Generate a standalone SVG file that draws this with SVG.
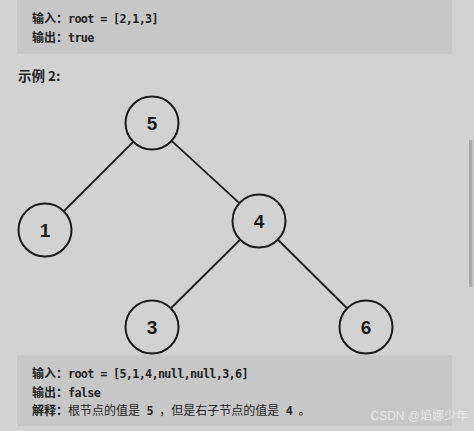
<svg xmlns="http://www.w3.org/2000/svg" width="474" height="431" viewBox="0 0 474 431">
<style>
.box{fill:#c7c7c8}
.cn{font-family:"Noto Sans CJK SC","Liberation Sans",sans-serif;font-size:12px;font-weight:bold;fill:#1e1e1e}
.cnn{font-family:"Noto Sans CJK SC","Liberation Sans",sans-serif;font-size:12px;fill:#1e1e1e}
.mono{font-family:"DejaVu Sans Mono","Liberation Mono",monospace;font-size:11.8px;letter-spacing:-0.68px;font-weight:bold;fill:#1e1e1e}
.node circle{fill:#d2d2d2;stroke:#1a1a1a;stroke-width:2}
.node text{font-family:"Liberation Sans",Arial,sans-serif;font-size:19px;font-weight:bold;fill:#1a1a1a;text-anchor:middle}
.edges line{stroke:#1a1a1a;stroke-width:1.8}
</style>
<rect width="474" height="431" fill="#d2d2d2"/>
<rect x="469" y="140" width="3.5" height="147" fill="#a9a9a9"/>
<g id="top-box">
<rect class="box" x="17" y="0" width="435" height="54"/>
<text x="32" y="23"><tspan class="cn">输入：</tspan><tspan class="mono">root = [2,1,3]</tspan></text>
<text x="32" y="42"><tspan class="cn">输出：</tspan><tspan class="mono">true</tspan></text>
</g>
<text x="18" y="81" font-family="'Noto Sans CJK SC','Liberation Sans',sans-serif" font-size="13.5" font-weight="bold" fill="#1e1e1e">示例 2:</text>
<g id="connectors" class="edges">
<line x1="132.9" y1="142.1" x2="64.1" y2="210.9"/>
<line x1="171.9" y1="141.2" x2="239.1" y2="202.8"/>
<line x1="239.8" y1="240" x2="171.2" y2="308"/>
<line x1="278.2" y1="240" x2="346.8" y2="308"/>
</g>
<g id="node-5" class="node"><circle cx="152" cy="123" r="26.5"/><text x="152" y="130">5</text></g>
<g id="node-1" class="node"><circle cx="45" cy="230" r="26.5"/><text x="45" y="237">1</text></g>
<g id="node-4" class="node"><circle cx="259" cy="221" r="26.5"/><text x="259" y="228">4</text></g>
<g id="node-3" class="node"><circle cx="152" cy="327" r="26.5"/><text x="152" y="334">3</text></g>
<g id="node-6" class="node"><circle cx="366" cy="327" r="26.5"/><text x="366" y="334">6</text></g>
<g id="bottom-box">
<rect class="box" x="17" y="355" width="435" height="71"/>
<text x="32" y="378"><tspan class="cn">输入：</tspan><tspan class="mono">root = [5,1,4,null,null,3,6]</tspan></text>
<text x="32" y="397"><tspan class="cn">输出：</tspan><tspan class="mono">false</tspan></text>
<text x="32" y="415" xml:space="preserve"><tspan class="cn">解释：</tspan><tspan class="cnn">根节点的值是</tspan><tspan class="mono"> 5 </tspan><tspan class="cnn">，但是右子节点的值是</tspan><tspan class="mono"> 4 </tspan><tspan class="cnn">。</tspan></text>
</g>
<text x="468" y="420" text-anchor="end" font-family="'Liberation Sans','Noto Sans CJK SC',sans-serif" font-size="12" fill="#eeeeee" fill-opacity="0.8">CSDN @焰娜少年</text>
</svg>
